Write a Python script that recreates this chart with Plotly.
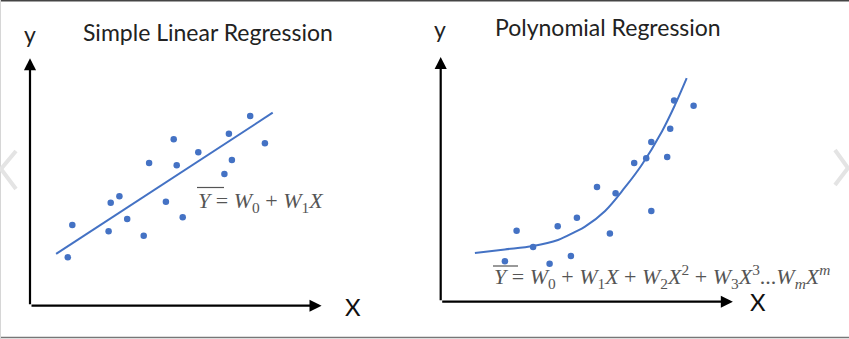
import plotly.graph_objects as go

W, H = 849, 339
BLUE = "#4472C4"

# ---- Simple linear regression panel ----
lin_x = [1.26, 1.41, 2.62, 2.69, 2.98, 3.24, 3.79, 3.97, 4.53, 4.79, 4.89, 5.09, 5.61, 6.48, 6.63, 6.73, 7.34, 7.83]
lin_y = [1.94, 3.23, 2.98, 4.12, 4.38, 3.47, 2.80, 5.71, 4.16, 6.66, 5.62, 3.54, 6.14, 5.27, 6.88, 5.83, 7.59, 6.50]
lin_fit_x = [0.87, 8.09]
lin_fit_y = [2.07, 7.72]

# ---- Polynomial regression panel ----
poly_x = [2.14, 2.53, 3.08, 3.63, 3.90, 4.34, 4.54, 5.21, 5.64, 5.83, 6.45, 6.85, 7.02, 7.02, 7.55, 7.65, 7.78, 8.43]
poly_y = [1.62, 2.84, 2.19, 1.52, 3.02, 1.83, 3.36, 4.59, 2.73, 4.34, 5.55, 5.74, 6.39, 3.63, 5.79, 6.92, 8.05, 7.84]
poly_fit_x = [1.14, 2.14, 3.08, 3.91, 4.48, 4.81, 5.48, 6.14, 6.70, 7.37, 7.81, 8.20]
poly_fit_y = [1.95, 2.09, 2.23, 2.47, 2.79, 3.00, 3.63, 4.57, 5.47, 6.80, 7.87, 8.94]

# axis arrow lengths (data units) for each panel
left_arrow = (9.72, 9.90)
right_arrow = (9.74, 9.79)

fig = go.Figure()

fig.add_trace(go.Scatter(x=lin_fit_x, y=lin_fit_y, mode="lines",
                         line=dict(color=BLUE, width=2), xaxis="x", yaxis="y"))
fig.add_trace(go.Scatter(x=lin_x, y=lin_y, mode="markers",
                         marker=dict(color=BLUE, size=6.5), xaxis="x", yaxis="y"))
fig.add_trace(go.Scatter(x=poly_fit_x, y=poly_fit_y, mode="lines",
                         line=dict(color=BLUE, width=2, shape="spline", smoothing=1.0),
                         xaxis="x2", yaxis="y2"))
fig.add_trace(go.Scatter(x=poly_x, y=poly_y, mode="markers",
                         marker=dict(color=BLUE, size=6.5), xaxis="x2", yaxis="y2"))


def px(v):
    return v / W


def py(v):
    return 1 - v / H


hidden = dict(visible=False, range=[0, 10], fixedrange=True, showgrid=False, zeroline=False)
fig.update_layout(
    width=W, height=H, margin=dict(l=0, r=0, t=0, b=0),
    paper_bgcolor="white", plot_bgcolor="rgba(0,0,0,0)", showlegend=False,
    xaxis=dict(hidden, domain=[px(30), px(330)]),
    yaxis=dict(hidden, domain=[py(305.7), py(55.7)]),
    xaxis2=dict(hidden, domain=[px(440.7), px(740.7)]),
    yaxis2=dict(hidden, domain=[py(301.7), py(51.7)]),
)

ann = []
# axis arrows
for xr, yr, (lx, ly) in (("x", "y", left_arrow), ("x2", "y2", right_arrow)):
    ann.append(dict(x=lx, y=0, ax=0, ay=0, xref=xr, yref=yr, axref=xr, ayref=yr,
                    showarrow=True, arrowhead=2, arrowsize=1.1, arrowwidth=2.2,
                    arrowcolor="black", text="", standoff=0))
    ann.append(dict(x=0, y=ly, ax=0, ay=0, xref=xr, yref=yr, axref=xr, ayref=yr,
                    showarrow=True, arrowhead=2, arrowsize=1.1, arrowwidth=2.2,
                    arrowcolor="black", text="", standoff=0))

sans = "Lato, 'Open Sans', sans-serif"
serif = "'Liberation Serif', 'DejaVu Serif', serif"


def label(text, x, y, size, family=sans, color="#222", xanchor="center"):
    ann.append(dict(text=text, x=px(x), y=py(y), xref="paper", yref="paper",
                    showarrow=False, xanchor=xanchor, yanchor="middle",
                    font=dict(family=family, size=size, color=color)))


label("Simple Linear Regression", 208, 32, 23)
label("Polynomial Regression", 608, 27, 23)
label("y", 30, 34, 23)
label("y", 440, 29, 23)
label("X", 353, 306, 24, color="#111")
label("X", 758, 301, 24, color="#111")

label("<i>Y</i> = <i>W</i><sub>0</sub> + <i>W</i><sub>1</sub><i>X</i>",
      196, 202, 22, family=serif, color="#555", xanchor="left")
label("<i>Y</i> = <i>W</i><sub>0</sub> + <i>W</i><sub>1</sub><i>X</i> + "
      "<i>W</i><sub>2</sub><i>X</i><sup>2</sup> + <i>W</i><sub>3</sub><i>X</i><sup>3</sup>"
      "...<i>W</i><sub><i>m</i></sub><i>X</i><sup><i>m</i></sup>",
      492, 276, 22, family=serif, color="#555", xanchor="left")

fig.update_layout(annotations=ann)

shapes = []
# overlines on the Y of each equation
for x0, x1, yv in ((197, 224, 187.5), (493, 518, 266)):
    shapes.append(dict(type="line", xref="paper", yref="paper",
                       x0=px(x0), x1=px(x1), y0=py(yv), y1=py(yv),
                       line=dict(color="#555", width=1.2)))
# frame lines
shapes.append(dict(type="line", xref="paper", yref="paper", x0=0, x1=1,
                   y0=py(0.8), y1=py(0.8), line=dict(color="#444", width=1.6)))
shapes.append(dict(type="line", xref="paper", yref="paper", x0=0, x1=1,
                   y0=py(337.5), y1=py(337.5), line=dict(color="#777", width=1.6)))
shapes.append(dict(type="line", xref="paper", yref="paper", x0=0.0006, x1=0.0006,
                   y0=0, y1=1, line=dict(color="#d6d6d6", width=1)))
# faint navigation chevrons at the sides
shapes.append(dict(type="path", xref="paper", yref="paper",
                   path=f"M {px(16)},{py(151)} L {px(1)},{py(169)} L {px(16)},{py(189)}",
                   line=dict(color="#e4e4e4", width=4)))
shapes.append(dict(type="path", xref="paper", yref="paper",
                   path=f"M {px(835)},{py(150)} L {px(848)},{py(168)} L {px(835)},{py(185)}",
                   line=dict(color="#e4e4e4", width=4)))
fig.update_layout(shapes=shapes)

fig.write_html("out.html", config=dict(displayModeBar=False))
